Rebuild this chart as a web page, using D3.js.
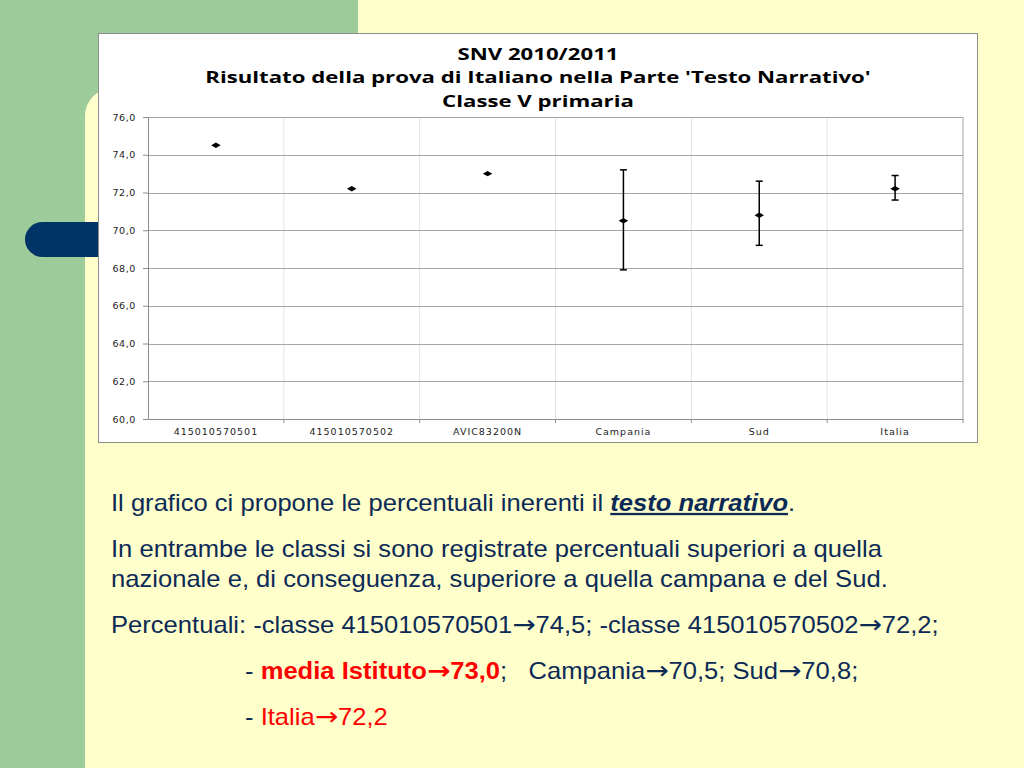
<!DOCTYPE html>
<html>
<head>
<meta charset="utf-8">
<script src="https://cdn.jsdelivr.net/npm/d3@7"></script>
<style>
  body { margin: 0; }
  svg { display: block; }
</style>
</head>
<body>
<svg width="1024" height="768"></svg>
<script>
// chart values
let categories = ["415010570501", "415010570502", "AVIC83200N", "Campania", "Sud", "Italia"];
let means = [74.5, 72.2, 73.0, 70.5, 70.8, 72.2];
let lower = [null, null, null, 67.9, 69.2, 71.6];
let upper = [null, null, null, 73.2, 72.6, 72.9];
let yTicks = [60, 62, 64, 66, 68, 70, 72, 74, 76];
let titleLines = ["SNV 2010/2011", "Risultato della prova di Italiano nella Parte 'Testo Narrativo'", "Classe V primaria"];

let svg = d3.select("svg");
let navy = "#0c2a56";

// slide background
svg.append("rect").attr("width", 1024).attr("height", 768).attr("fill", "#ffffcc");
svg.append("rect").attr("width", 358).attr("height", 768).attr("fill", "#9dcc9a");
svg.append("path")
  .attr("d", "M85,768 V116 A28,28 0 0 1 113,88 H358 V768 Z")
  .attr("fill", "#ffffcc");
svg.append("rect")
  .attr("x", 25).attr("y", 222).attr("width", 200).attr("height", 35)
  .attr("rx", 17.5).attr("fill", "#003366");

// chart box
svg.append("rect")
  .attr("x", 98.5).attr("y", 33.5).attr("width", 879).attr("height", 409)
  .attr("fill", "#fff").attr("stroke", "#8c8c8c");

let title = svg.append("text")
  .attr("text-anchor", "middle")
  .attr("font-family", "'Open Sans', sans-serif")
  .attr("font-weight", "bold")
  .attr("font-size", 16.5)
  .attr("fill", "#000");
titleLines.forEach((t, i) => {
  title.append("tspan").attr("x", 538).attr("y", 60 + i * 23.5).text(t);
});
// stretch title horizontally like the (stretched) source image
let tw = title.selectAll("tspan").nodes()[1].getComputedTextLength();
let ts = 666 / tw;
title.attr("transform", "translate(538,0) scale(" + ts + ",1) translate(-538,0)");

let x = d3.scaleBand().domain(categories).range([148, 963]);
let y = d3.scaleLinear().domain([60, 76]).range([419, 117]);
let fmt = d3.formatLocale({decimal: ",", thousands: ".", grouping: [3], currency: ["", "€"]}).format(".1f");

let plot = svg.append("g");

// vertical gridlines at band boundaries
let bounds = categories.slice(1).map(c => x(c));
plot.selectAll(".vgrid").data(bounds).enter().append("line")
  .attr("class", "vgrid")
  .attr("x1", d => d).attr("x2", d => d)
  .attr("y1", y(76)).attr("y2", y(60))
  .attr("stroke", "#e3e3e3");

// horizontal gridlines
plot.append("g")
  .attr("transform", "translate(148,0)")
  .call(d3.axisLeft(y).tickValues(yTicks).tickSize(-(963 - 148)).tickFormat(""))
  .call(g => g.select(".domain").remove())
  .call(g => g.selectAll("line").attr("stroke", "#a6a6a6").attr("shape-rendering", "crispEdges"));

// right border of plot
plot.append("line")
  .attr("x1", 963).attr("x2", 963).attr("y1", y(76)).attr("y2", y(60))
  .attr("stroke", "#a6a6a6");

// y axis
let yAxis = plot.append("g")
  .attr("transform", "translate(148,0)")
  .call(d3.axisLeft(y).tickValues(yTicks).tickSize(5).tickPadding(7).tickFormat(fmt));
yAxis.select(".domain").attr("stroke", "#8c8c8c");
yAxis.selectAll("line").attr("stroke", "#8c8c8c");
yAxis.selectAll("text")
  .attr("font-family", "'DejaVu Sans', sans-serif")
  .attr("font-size", 9.5)
  .attr("letter-spacing", 0.6)
  .attr("fill", "#222");

// x axis
let xAxis = plot.append("g")
  .attr("transform", "translate(0,419)")
  .call(d3.axisBottom(x).tickSize(0).tickPadding(9));
xAxis.select(".domain").attr("stroke", "#8c8c8c");
xAxis.selectAll("text")
  .attr("font-family", "'DejaVu Sans', sans-serif")
  .attr("font-size", 9.5)
  .attr("letter-spacing", 1)
  .attr("fill", "#222");
plot.selectAll(".xtick").data(bounds.concat([x.range()[1]])).enter().append("line")
  .attr("class", "xtick")
  .attr("x1", d => d).attr("x2", d => d)
  .attr("y1", 419).attr("y2", 423)
  .attr("stroke", "#8c8c8c");

// error bars
let data = categories.map((c, i) => ({c: c, m: means[i], lo: lower[i], hi: upper[i]}));
let eb = data.filter(d => d.lo !== null);
let cx = d => x(d.c) + x.bandwidth() / 2;
plot.selectAll(".eb").data(eb).enter().append("line")
  .attr("x1", cx).attr("x2", cx)
  .attr("y1", d => y(d.lo)).attr("y2", d => y(d.hi))
  .attr("stroke", "#000").attr("stroke-width", 1.5);
["lo", "hi"].forEach(k => {
  plot.selectAll(".cap" + k).data(eb).enter().append("line")
    .attr("x1", d => cx(d) - 3.5).attr("x2", d => cx(d) + 3.5)
    .attr("y1", d => y(d[k])).attr("y2", d => y(d[k]))
    .attr("stroke", "#000").attr("stroke-width", 1.5);
});

// mean markers
plot.selectAll(".pt").data(data).enter().append("path")
  .attr("d", d3.symbol(d3.symbolDiamond, 26))
  .attr("transform", d => "translate(" + cx(d) + "," + y(d.m) + ") rotate(90)")
  .attr("fill", "#000");

// commentary text
let txt = svg.append("g")
  .attr("font-family", "'Liberation Sans', Arial, sans-serif")
  .attr("font-size", 23)
  .attr("fill", navy);

let line = (yy, xx) => txt.append("text").attr("x", xx).attr("y", yy);
let arrow = (sel) => sel.append("tspan").attr("font-family", "'DejaVu Sans', sans-serif").attr("font-size", 25).text("\u2192");

let l1 = line(511, 111);
l1.append("tspan").text("Il grafico ci propone le percentuali inerenti il ");
l1.append("tspan").attr("font-weight", "bold").attr("font-style", "italic")
  .attr("text-decoration", "underline").text("testo narrativo");
l1.append("tspan").text(".");

let l2 = line(557, 111).text("In entrambe le classi si sono registrate percentuali superiori a quella");
line(587, 111).text("nazionale e, di conseguenza, superiore a quella campana e del Sud.");

let l4 = line(633, 111);
l4.append("tspan").text("Percentuali: -classe 415010570501");
arrow(l4);
l4.append("tspan").text("74,5; -classe 415010570502");
arrow(l4);
l4.append("tspan").text("72,2;");

let l5 = line(679, 245);
l5.append("tspan").text("- ");
let red = l5.append("tspan").attr("fill", "#ff0000").attr("font-weight", "bold");
red.append("tspan").text("media Istituto");
arrow(red);
red.append("tspan").text("73,0");
l5.append("tspan").attr("xml:space", "preserve").text(";   Campania");
arrow(l5);
l5.append("tspan").text("70,5; Sud");
arrow(l5);
l5.append("tspan").text("70,8;");

let l6 = line(725, 245);
l6.append("tspan").text("- ");
let red2 = l6.append("tspan").attr("fill", "#ff0000");
red2.append("tspan").text("Italia");
arrow(red2);
red2.append("tspan").text("72,2");

// the slide text is horizontally condensed; fit the long line to its width
let w = l2.node().getComputedTextLength();
let s = 771 / w;
txt.selectAll("text").each(function() {
  let t = d3.select(this);
  let x0 = +t.attr("x");
  t.attr("transform", "translate(" + x0 + ",0) scale(" + s + ",1) translate(" + (-x0) + ",0)");
});
</script>
</body>
</html>
